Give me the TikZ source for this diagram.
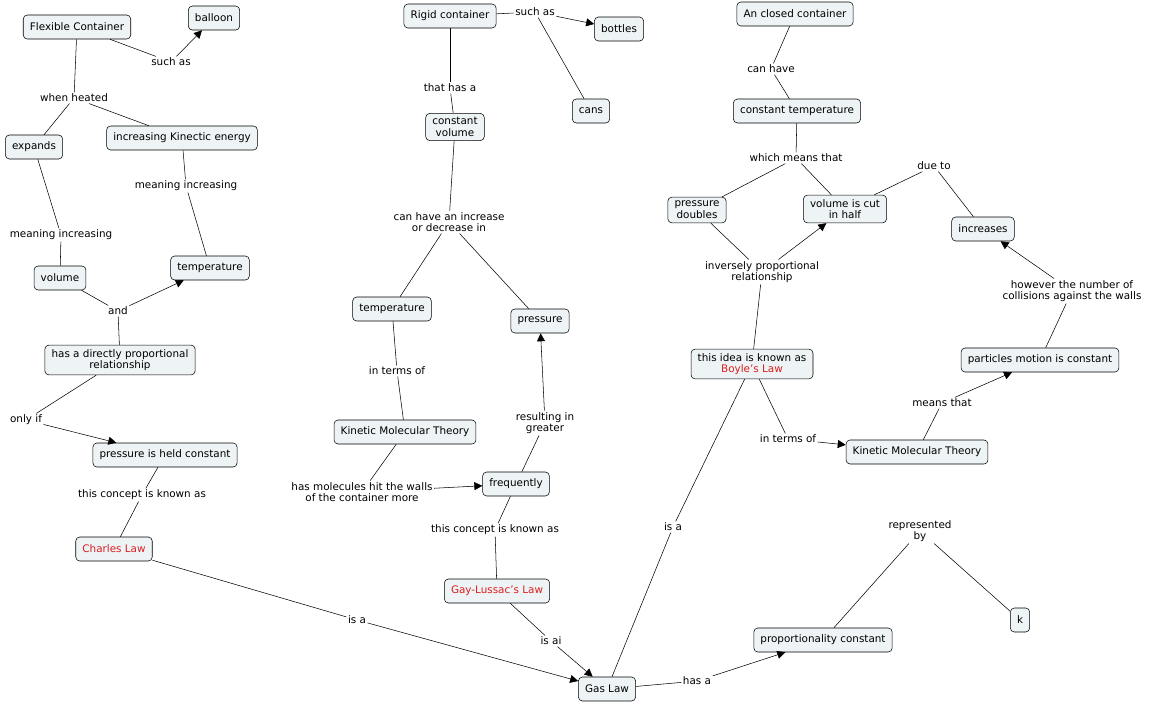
\documentclass[tikz,border=0pt]{standalone}
\usepackage{fontspec}
\setmainfont{DejaVu Sans}
\usetikzlibrary{arrows.meta}
\definecolor{boxfill}{RGB}{238,243,245}
\definecolor{lawred}{RGB}{220,30,30}
\tikzset{
    concept/.style={
            draw,
            rounded corners=3pt,
            fill=boxfill,
            align=center,
            inner xsep=5pt,
            inner ysep=3pt,
            minimum height=18pt,
            font=\fontsize{7.8}{8.8}\selectfont
        },
    law/.style={
            concept,
            text=lawred
        },
    link/.style={
            align=center,
            inner sep=1pt,
            font=\fontsize{7.8}{8.8}\selectfont
        },
    conn/.style={
            thin
        },
    arr/.style={
            thin,
            -{Triangle[length=6pt,width=6pt]}
        }
}

\begin{document}
\begin{tikzpicture}[x=0.75pt, y=-0.75pt]
    \useasboundingbox (0,0) rectangle (1171,704);
    % left cluster
    \node[concept] (flex) at (77,27) {Flexible Container};
    \node[concept] (balloon) at (214,18) {balloon};
    \node[link] (suchas1) at (171,62) {such as};
    \node[link] (heated) at (74,98) {when heated};
    \node[concept] (expands) at (34,147) {expands};
    \node[concept] (incke) at (182,138) {increasing Kinectic energy};
    \node[link] (meaninc1) at (186,186) {meaning increasing};
    \node[link] (meaninc2) at (61,235) {meaning increasing};
    \node[concept] (volume) at (60,278) {volume};
    \node[concept] (temp1) at (210,268) {temperature};
    \node[link] (and) at (118,311) {and};
    \node[concept] (direct) at (120,360) {has a directly proportional\\relationship};
    \node[link] (onlyif) at (26,420) {only if};
    \node[concept] (pconst) at (165,455) {pressure is held constant};
    \node[link] (known1) at (142,495) {this concept is known as};
    \node[law] (charles) at (114,549) {Charles Law};
    \node[link] (isa1) at (357,620) {is a};
    \node[concept] (gaslaw) at (607,689) {Gas Law};
    % middle cluster
    \node[concept] (rigid) at (450,16) {Rigid container};
    \node[link] (suchas2) at (535,12) {such as};
    \node[concept] (bottles) at (619,29) {bottles};
    \node[concept] (cans) at (591,111) {cans};
    \node[link] (thathas) at (450,88) {that has a};
    \node[concept] (cvol) at (455,127) {constant\\volume};
    \node[link] (canhave1) at (449,222) {can have an increase\\or decrease in};
    \node[concept] (temp2) at (392,309) {temperature};
    \node[concept] (pressure) at (540,321) {pressure};
    \node[link] (interms1) at (397,371) {in terms of};
    \node[concept] (kmt1) at (405,432) {Kinetic Molecular Theory};
    \node[link] (hasmol) at (362,492) {has molecules hit the walls\\of the container more};
    \node[concept] (freq) at (516,484) {frequently};
    \node[link] (result) at (545,423) {resulting in\\greater};
    \node[link] (known2) at (495,530) {this concept is known as};
    \node[law] (gay) at (497,591) {Gay-Lussac's Law};
    \node[link] (isai) at (551,641) {is ai};
    % right cluster
    \node[concept] (closed) at (795,14) {An closed container};
    \node[link] (canhave2) at (771,69) {can have};
    \node[concept] (ctemp) at (797,111) {constant temperature};
    \node[link] (means1) at (796,158) {which means that};
    \node[concept] (pdouble) at (697,210) {pressure\\doubles};
    \node[concept] (vhalf) at (845,209) {volume is cut\\in half};
    \node[link] (dueto) at (934,166) {due to};
    \node[concept] (incr) at (983,229) {increases};
    \node[link] (inverse) at (762,272) {inversely proportional\\relationship};
    \node[link] (however) at (1072,291) {however the number of\\collisions against the walls};
    \node[concept] (particles) at (1040,360) {particles motion is constant};
    \node[concept] (boyle) at (752,364) {this idea is known as\\\textcolor{lawred}{Boyle's Law}};
    \node[link] (means2) at (942,403) {means that};
    \node[link] (interms2) at (788,439) {in terms of};
    \node[concept] (kmt2) at (917,452) {Kinetic Molecular Theory};
    \node[link] (isa2) at (673,527) {is a};
    \node[link] (repr) at (920,531) {represented\\by};
    \node[concept] (k) at (1020,620) {k};
    \node[concept] (pconstant) at (823,640) {proportionality constant};
    \node[link] (hasa) at (697,681) {has a};
    %
    \draw[conn] (flex) -- (suchas1);
    \draw[arr] (suchas1) -- (balloon);
    \draw[conn] (flex) -- (heated);
    \draw[conn] (heated) -- (expands);
    \draw[conn] (heated) -- (incke);
    \draw[conn] (incke) -- (meaninc1);
    \draw[conn] (meaninc1) -- (temp1);
    \draw[conn] (expands) -- (meaninc2);
    \draw[conn] (meaninc2) -- (volume);
    \draw[conn] (volume) -- (and);
    \draw[arr] (and) -- (temp1);
    \draw[conn] (and) -- (direct);
    \draw[conn] (direct) -- (onlyif);
    \draw[arr] (onlyif) -- (pconst);
    \draw[conn] (pconst) -- (known1);
    \draw[conn] (known1) -- (charles);
    \draw[conn] (charles) -- (isa1);
    \draw[arr] (isa1) -- (gaslaw);
    %
    \draw[conn] (rigid) -- (suchas2);
    \draw[arr] (suchas2) -- (bottles);
    \draw[conn] (suchas2) -- (cans);
    \draw[conn] (rigid) -- (thathas);
    \draw[conn] (thathas) -- (cvol);
    \draw[conn] (cvol) -- (canhave1);
    \draw[conn] (canhave1) -- (temp2);
    \draw[conn] (canhave1) -- (pressure);
    \draw[conn] (temp2) -- (interms1);
    \draw[conn] (interms1) -- (kmt1);
    \draw[conn] (kmt1) -- (hasmol);
    \draw[arr] (hasmol) -- (freq);
    \draw[conn] (freq) -- (result);
    \draw[arr] (result) -- (pressure);
    \draw[conn] (freq) -- (known2);
    \draw[conn] (known2) -- (gay);
    \draw[conn] (gay) -- (isai);
    \draw[arr] (isai) -- (gaslaw);
    %
    \draw[conn] (closed) -- (canhave2);
    \draw[conn] (canhave2) -- (ctemp);
    \draw[conn] (ctemp) -- (means1);
    \draw[conn] (means1) -- (pdouble);
    \draw[conn] (means1) -- (vhalf);
    \draw[conn] (pdouble) -- (inverse);
    \draw[arr] (inverse) -- (vhalf);
    \draw[conn] (inverse) -- (boyle);
    \draw[conn] (vhalf) -- (dueto);
    \draw[conn] (dueto) -- (incr);
    \draw[conn] (particles) -- (however);
    \draw[arr] (however) -- (incr);
    \draw[conn] (kmt2) -- (means2);
    \draw[arr] (means2) -- (particles);
    \draw[conn] (boyle) -- (interms2);
    \draw[arr] (interms2) -- (kmt2);
    \draw[conn] (gaslaw) -- (isa2);
    \draw[conn] (isa2) -- (boyle);
    \draw[conn] (gaslaw) -- (hasa);
    \draw[arr] (hasa) -- (pconstant);
    \draw[conn] (pconstant) -- (repr);
    \draw[conn] (repr) -- (k);
\end{tikzpicture}
\end{document}
